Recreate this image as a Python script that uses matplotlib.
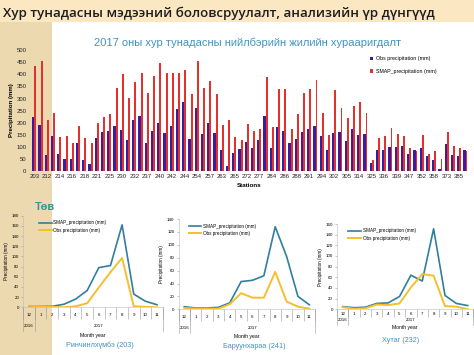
import numpy as np
import matplotlib
matplotlib.use("Agg")
import matplotlib.pyplot as plt
from matplotlib.patches import Rectangle
from matplotlib.lines import Line2D
import matplotlib.transforms as mtransforms

W, H = 474, 355
plt.rcParams['font.family'] = ['Liberation Sans', 'DejaVu Sans']

# ---------------- data ----------------
station_labels = [203, 212, 214, 216, 218, 221, 225, 230, 232, 237, 240, 242, 244, 254, 257,
                  263, 265, 272, 277, 284, 286, 288, 291, 294, 302, 305, 314, 325, 336, 339,
                  347, 352, 358, 373, 385]
obs_total = [225, 192, 65, 145, 72, 48, 50, 115, 45, 30,
             137, 160, 165, 185, 168, 130, 213, 228, 115, 165,
             200, 158, 187, 255, 287, 132, 262, 155, 197, 158,
             88, 20, 75, 92, 122, 97, 128, 226, 97, 181,
             166, 117, 133, 160, 175, 186, 145, 87, 159, 160,
             123, 174, 149, 152, 32, 86, 88, 99, 101, 104,
             69, 86, 97, 64, 47, 7, 113, 66, 61, 86]
smap_total = [435, 455, 210, 238, 140, 143, 115, 188, 137, 115,
              200, 225, 237, 343, 400, 303, 367, 405, 322, 395,
              445, 405, 405, 407, 417, 318, 455, 345, 372, 318,
              190, 213, 140, 128, 195, 164, 173, 388, 184, 341,
              341, 175, 235, 323, 341, 376, 240, 149, 337, 260,
              218, 267, 286, 238, 46, 135, 144, 180, 155, 144,
              94, 84, 150, 69, 81, 51, 162, 102, 97, 83]

months = ['12', '1', '2', '3', '4', '5', '6', '7', '8', '9', '10', '11']
years = ['2016', '2017']

smap_203 = [2, 2, 2, 6, 16, 33, 78, 82, 162, 26, 12, 5]
obs_203 = [3, 2, 1, 0, 2, 8, 39, 69, 97, 2, 1, 0]
smap_241 = [4, 2, 2, 3, 10, 43, 45, 52, 128, 82, 20, 7]
obs_241 = [2, 1, 1, 1, 8, 25, 18, 18, 58, 12, 4, 1]
smap_232 = [5, 3, 4, 11, 12, 24, 64, 53, 151, 26, 11, 7]
obs_232 = [4, 1, 2, 9, 8, 11, 41, 66, 63, 6, 5, 0]

# ---------------- colors ----------------
OBS_BAR = '#3a1c9c'
SMAP_BAR = '#e5302b'
SMAP_LINE = '#2f7f9f'
OBS_LINE = '#f2c02e'
TEAL = '#3d9494'
BLUE_TXT = '#3f94c0'

fig = plt.figure(figsize=(W / 100, H / 100), dpi=100)
fig.patch.set_facecolor('white')

# slide background
fig.patches.append(Rectangle((0, 1 - 22 / H), 1, 22 / H, transform=fig.transFigure,
                             facecolor='#fbe7c2', edgecolor='none', zorder=-10))
fig.patches.append(Rectangle((0, 0), 52 / W, 1 - 22 / H, transform=fig.transFigure,
                             facecolor='#ecd9b0', edgecolor='none', zorder=-10))


def px_axes(left, top, right, bottom):
    ax = fig.add_axes([left / W, 1 - bottom / H, (right - left) / W, (bottom - top) / H])
    ax.patch.set_alpha(0)
    return ax


fig.text(3 / W, 1 - 13 / H, 'Хур тунадасны мэдээний боловсруулалт, анализийн үр дүнгүүд',
         family=['Open Sans', 'DejaVu Sans'], fontweight='semibold', fontsize=9.65,
         color='#1e1e1e', va='center', ha='left')
fig.text(248 / W, 1 - 43 / H, '2017 оны хур тунадасны нийлбэрийн жилийн хурааригдалт',
         fontsize=8, color=BLUE_TXT, va='center', ha='center')

# ---------------- bar chart ----------------
ax = px_axes(29.3, 50.2, 468.5, 171)
x = np.arange(len(obs_total))
ax.bar(x - 0.16, obs_total, width=0.36, color=OBS_BAR, label='Obs precipitation (mm)')
ax.bar(x + 0.18, smap_total, width=0.3, color=SMAP_BAR, label='SMAP_precipitation (mm)')
ax.set_xlim(-0.8, 69.5)
ax.set_ylim(0, 500)
ax.set_yticks(np.arange(0, 501, 50))
ax.set_xticks(x[::2])
ax.set_xticklabels([str(s) for s in station_labels])
ax.tick_params(length=0, labelsize=4.3, pad=2, colors='#222222')
for s in ax.spines.values():
    s.set_visible(False)
ax.set_xlabel('Stations', fontsize=4.5, fontweight='bold', labelpad=3)
ax.set_ylabel('Precipitation (mm)', fontsize=4.4, fontweight='bold', labelpad=2)
leg = ax.legend(loc='upper left', bbox_to_anchor=(0.776, 0.95), frameon=False, fontsize=3.8,
                handlelength=0.6, handleheight=0.6, handletextpad=0.5, labelspacing=1.45,
                borderaxespad=0, borderpad=0)

# ---------------- line charts ----------------
def line_chart(box, ymax, smap, obs, station, station_x, rows, legend_anchor):
    ax = px_axes(*box)
    xi = np.arange(len(months))
    ax.plot(xi, smap, color=SMAP_LINE, lw=1.2, label='SMAP_precipitation (mm)')
    ax.plot(xi, obs, color=OBS_LINE, lw=1.4, label='Obs precipitation (mm)')
    ax.set_xlim(-0.5, len(months) - 0.5)
    ax.set_ylim(0, ymax)
    ax.set_yticks(np.arange(0, ymax + 1, 20))
    ax.set_xticks(xi)
    ax.set_xticklabels(months)
    ax.set_xticks(np.arange(-0.5, len(months), 1), minor=True)
    ax.tick_params(axis='x', which='major', length=0, labelsize=3.2, pad=rows[0])
    ax.tick_params(axis='x', which='minor', length=rows[1], width=0.4, color='#999999')
    ax.tick_params(axis='y', length=1.5, width=0.4, color='#999999', labelsize=3.2, pad=1.5)
    for k in ['top', 'right']:
        ax.spines[k].set_visible(False)
    ax.spines['left'].set_color('#bbbbbb')
    ax.spines['bottom'].set_color('#bbbbbb')
    ax.spines['left'].set_linewidth(0.4)
    ax.spines['bottom'].set_linewidth(0.4)
    ax.set_ylabel('Precipitation (mm)', fontsize=3.3, labelpad=2)
    ax.legend(loc='upper left', bbox_to_anchor=legend_anchor, frameon=False, fontsize=3.3,
              handlelength=2.8, handletextpad=0.3, labelspacing=0.5, borderaxespad=0)
    # long separators for year row
    trans = mtransforms.blended_transform_factory(ax.transData, ax.transAxes)
    hpx = (box[3] - box[1])
    depth = rows[2] / hpx
    for xs in (-0.5, 0.5, len(months) - 0.5):
        ax.add_line(Line2D([xs, xs], [0, -depth], transform=trans, color='#999999',
                           lw=0.4, clip_on=False))
    ax.annotate(years[0], xy=(0, 0), xycoords=trans, xytext=(0, -rows[3] * 0.72),
                textcoords='offset points', ha='center', va='center', fontsize=3.2)
    ax.annotate(years[1], xy=((1 + len(months) - 1) / 2, 0), xycoords=trans,
                xytext=(0, -rows[3] * 0.72), textcoords='offset points',
                ha='center', va='center', fontsize=3.2)
    ax.annotate('Month year', xy=(0.5, 0), xycoords='axes fraction',
                xytext=(0, -rows[4] * 0.72), textcoords='offset points',
                ha='center', va='center', fontsize=3.6)
    fig.text(station_x / W, 1 - (box[3] + rows[5]) / H, station, fontsize=5.2,
             color=BLUE_TXT, ha='center', va='center')
    return ax


# rows: (label pad pt, minor tick len pt, long sep px, year offset px, month-year offset px, station offset px)
line_chart((23.2, 215.7, 162.8, 307.3), 180, smap_203, obs_203, 'Ринчинлхүмбэ (203)', 100,
           (4.0, 8.5, 24, 19, 28, 38), (0.1, 0.97))
line_chart((178.6, 219, 315, 309.3), 140, smap_241, obs_241, 'Баруунхараа (241)', 254,
           (4.0, 8.5, 24, 18.5, 27, 37.5), (0.06, 0.97))
line_chart((337, 224, 473.4, 309.3), 160, smap_232, obs_232, 'Хутаг (232)', 401,
           (2.0, 5.5, 16, 11, 18, 31), (0.07, 0.97))

fig.text(45 / W, 1 - 207 / H, 'Төв', fontsize=8, fontweight='bold', color=TEAL,
         ha='center', va='center')

fig.savefig('out.png', dpi=100)
